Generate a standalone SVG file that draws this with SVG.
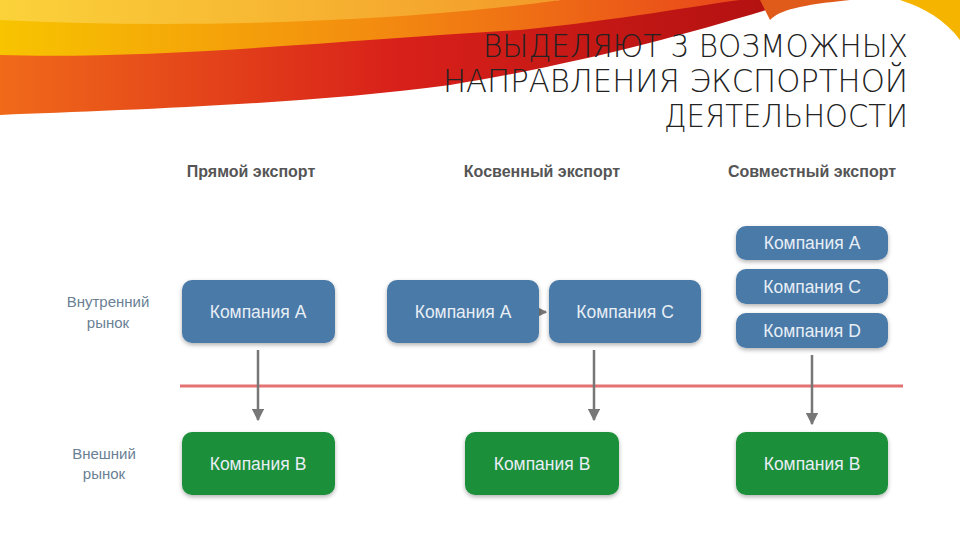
<svg xmlns="http://www.w3.org/2000/svg" width="960" height="540" viewBox="0 0 960 540">
<defs>
<linearGradient id="sw1" x1="0" y1="0" x2="1" y2="0"><stop offset="0" stop-color="#f7c400"/><stop offset="0.5" stop-color="#f38a10"/><stop offset="1" stop-color="#e8401c"/></linearGradient>
<linearGradient id="sw2" x1="0" y1="0" x2="1" y2="0"><stop offset="0" stop-color="#f06a1a"/><stop offset="0.5" stop-color="#d8201a"/><stop offset="1" stop-color="#b01010"/></linearGradient>
<linearGradient id="sw3" x1="0" y1="0" x2="1" y2="0"><stop offset="0" stop-color="#fbd23a"/><stop offset="1" stop-color="#f39a2a"/></linearGradient>
<marker id="ar" viewBox="0 0 10 10" refX="9" refY="5" markerWidth="5" markerHeight="5" orient="auto"><path d="M0,0 L10,5 L0,10 z" fill="#777"/></marker>
<filter id="sh" x="-10%" y="-10%" width="120%" height="130%"><feDropShadow dx="0" dy="2" stdDeviation="2" flood-opacity="0.3"/></filter>
</defs>
<style>
.hdr{font-family:"Liberation Sans",Arial,sans-serif;font-weight:bold;font-size:16px;fill:#555;text-anchor:middle}
.side{font-family:"Liberation Sans",Arial,sans-serif;font-size:15px;fill:#6a7f95;text-anchor:middle}
.bt{font-family:"Liberation Sans",Arial,sans-serif;font-size:17.5px;fill:#e8eef5;text-anchor:middle;dominant-baseline:central}
.blue{fill:#4a7aa8;filter:url(#sh)}
.green{fill:#1d8f3a;filter:url(#sh)}
.title{font-family:"DejaVu Sans","Liberation Sans",sans-serif;font-weight:200;font-size:32px;fill:#222;text-anchor:end}
.arr{stroke:#777;stroke-width:2.5;fill:none;marker-end:url(#ar)}
</style>
<rect width="960" height="540" fill="#fff"/>
<g id="swoosh">
<path d="M0,0 L560,0 C430,30 200,40 0,40 Z" fill="url(#sw3)"/>
<path d="M0,20 C200,30 420,20 560,0 L770,0 C600,40 520,60 300,80 C200,90 80,95 0,100 Z" fill="url(#sw1)"/>
<path d="M0,55 C150,60 350,40 520,30 C620,20 700,5 740,0 L800,0 C700,30 600,60 450,85 C300,105 120,110 0,115 Z" fill="url(#sw2)"/>
<path d="M760,0 L850,0 C800,5 780,10 770,20 Z" fill="#e05a1a"/>
<path d="M900,0 L960,0 L960,40 C945,20 925,8 900,0 Z" fill="#f5b400"/>
</g>
<g id="title">
<text class="title" x="908" y="57" textLength="425" lengthAdjust="spacingAndGlyphs">ВЫДЕЛЯЮТ 3 ВОЗМОЖНЫХ</text>
<text class="title" x="908" y="92" textLength="465" lengthAdjust="spacingAndGlyphs">НАПРАВЛЕНИЯ ЭКСПОРТНОЙ</text>
<text class="title" x="908" y="127" textLength="244" lengthAdjust="spacingAndGlyphs">ДЕЯТЕЛЬНОСТИ</text>
</g>
<g id="headers">
<text class="hdr" x="251" y="177">Прямой экспорт</text>
<text class="hdr" x="542" y="177">Косвенный экспорт</text>
<text class="hdr" x="812" y="177">Совместный экспорт</text>
</g>
<g id="sides">
<text class="side" x="108" y="307">Внутренний</text>
<text class="side" x="108" y="328">рынок</text>
<text class="side" x="104" y="459">Внешний</text>
<text class="side" x="104" y="479">рынок</text>
</g>
<line id="border" x1="180" y1="386" x2="903" y2="386" stroke="#e05a5a" stroke-width="3" opacity="0.85"/>
<g id="connectors">
<line class="arr" x1="258" y1="350" x2="258" y2="420"/>
<line class="arr" x1="594" y1="350" x2="594" y2="420"/>
<line class="arr" x1="812" y1="355" x2="812" y2="424"/>
<line class="arr" x1="522" y1="312" x2="546" y2="312" stroke-width="2"/>
</g>
<g id="d-a"><rect class="blue" x="182" y="280" width="153" height="63" rx="10"/><text class="bt" x="258" y="312">Компания А</text></g>
<g id="i-a"><rect class="blue" x="387" y="280" width="152" height="63" rx="10"/><text class="bt" x="463" y="312">Компания А</text></g>
<g id="i-c"><rect class="blue" x="549" y="280" width="152" height="63" rx="10"/><text class="bt" x="625" y="312">Компания С</text></g>
<g id="j-a"><rect class="blue" x="736" y="226" width="152" height="34" rx="10"/><text class="bt" x="812" y="243">Компания А</text></g>
<g id="j-c"><rect class="blue" x="736" y="269" width="152" height="35" rx="10"/><text class="bt" x="812" y="287">Компания С</text></g>
<g id="j-d"><rect class="blue" x="736" y="313" width="152" height="35" rx="10"/><text class="bt" x="812" y="331">Компания D</text></g>
<g id="d-b"><rect class="green" x="182" y="432" width="153" height="63" rx="10"/><text class="bt" x="258" y="464">Компания В</text></g>
<g id="i-b"><rect class="green" x="465" y="432" width="154" height="63" rx="10"/><text class="bt" x="542" y="464">Компания В</text></g>
<g id="j-b"><rect class="green" x="736" y="432" width="152" height="63" rx="10"/><text class="bt" x="812" y="464">Компания В</text></g>
</svg>
